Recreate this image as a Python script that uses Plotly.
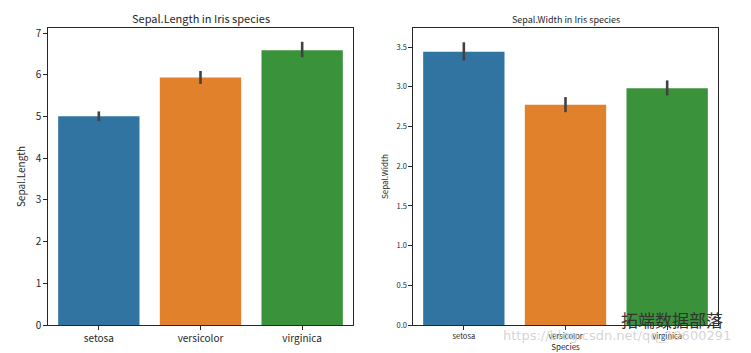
import plotly.graph_objects as go

species = ["setosa", "versicolor", "virginica"]
sepal_length = [5.006, 5.936, 6.588]
sl_lo = [4.89, 5.78, 6.42]
sl_hi = [5.12, 6.09, 6.79]
sepal_width = [3.44, 2.775, 2.98]
sw_lo = [3.33, 2.68, 2.89]
sw_hi = [3.56, 2.87, 3.08]
colors = ["#3274a1", "#e1812c", "#3a923a"]

W, H = 751, 353
L, R, T, B = 48, 33, 28, 28
PW = W - L - R
PH = H - T - B
FONT = "Noto Sans CJK SC"
TXT = "#262626"

fig = go.Figure()

def add_bars(vals, lo, hi, xa, ya):
    for i, s in enumerate(species):
        fig.add_trace(go.Bar(
            x=[s], y=[vals[i]], marker=dict(color=colors[i], line=dict(width=0)),
            width=0.8, xaxis=xa, yaxis=ya, showlegend=False,
            error_y=dict(type="data", symmetric=False,
                         array=[hi[i] - vals[i]], arrayminus=[vals[i] - lo[i]],
                         color="#424242", thickness=2.6, width=0),
        ))

add_bars(sepal_length, sl_lo, sl_hi, "x", "y")
add_bars(sepal_width, sw_lo, sw_hi, "x2", "y2")

def px_x(p):
    return (p - L) / PW

def px_y(p):
    return (H - B - p) / PH

axis_common = dict(showline=True, linecolor="#262626", linewidth=1.2, mirror=True,
                   ticks="outside", ticklen=3.5, tickcolor="#262626", tickwidth=1,
                   showgrid=False, zeroline=False, automargin=False)

fig.update_layout(
    width=W, height=H, margin=dict(l=L, r=R, t=T, b=B, autoexpand=False),
    paper_bgcolor="white", plot_bgcolor="white",
    font=dict(family=FONT, color=TXT),
    xaxis=dict(domain=[0, px_x(353)], range=[-0.5, 2.5], anchor="y",
               tickfont=dict(size=10, color=TXT), **axis_common),
    yaxis=dict(domain=[0, 1], range=[0, 7.12], anchor="x", dtick=1,
               tickfont=dict(size=10, color=TXT),
               title=dict(text="Sepal.Length", font=dict(size=10, color=TXT), standoff=8),
               **axis_common),
    xaxis2=dict(domain=[px_x(413), 1], range=[-0.5, 2.5], anchor="y2",
                tickfont=dict(size=7.5, color=TXT),
                title=dict(text="Species", font=dict(size=8, color=TXT), standoff=4),
                **axis_common),
    yaxis2=dict(domain=[0, 1], range=[0, 3.74], anchor="x2", dtick=0.5, tickformat=".1f",
                tickfont=dict(size=7.5, color=TXT),
                title=dict(text="Sepal.Width", font=dict(size=8, color=TXT), standoff=6),
                **axis_common),
    annotations=[
        dict(text="Sepal.Length in Iris species", x=px_x((48 + 353) / 2), y=px_y(18),
             xref="paper", yref="paper", showarrow=False, xanchor="center", yanchor="middle",
             font=dict(size=11, color=TXT)),
        dict(text="Sepal.Width in Iris species", x=px_x((413 + 718) / 2), y=px_y(19),
             xref="paper", yref="paper", showarrow=False, xanchor="center", yanchor="middle",
             font=dict(size=9, color=TXT)),
        dict(text="https://blog.csdn.net/qq_19600291", x=px_x(501), y=px_y(335),
             xref="paper", yref="paper", showarrow=False, xanchor="left", yanchor="middle",
             font=dict(size=13, color="rgba(205,205,205,0.85)", family="DejaVu Sans")),
        dict(text="拓端数据部落", x=px_x(619), y=px_y(319),
             xref="paper", yref="paper", showarrow=False, xanchor="left", yanchor="middle",
             font=dict(size=17, color="#333333", family=FONT)),
    ],
)

fig.write_html("out.html")
